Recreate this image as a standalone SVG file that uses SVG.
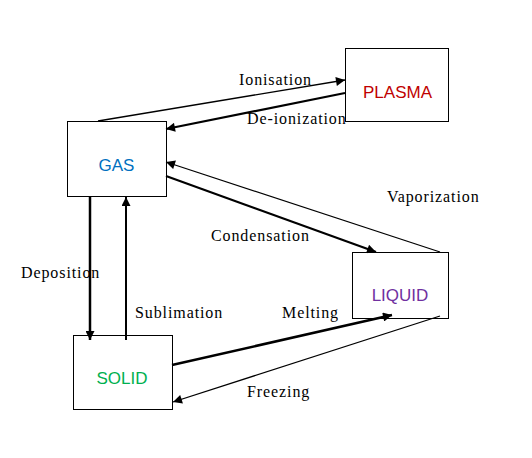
<svg xmlns="http://www.w3.org/2000/svg" width="532" height="458" viewBox="0 0 532 458">
<style>
.box{fill:#fff;stroke:#000;stroke-width:1}
.nl{font-family:"Liberation Sans",Arial,sans-serif;font-size:17px;text-anchor:middle}
.el{font-family:"Liberation Serif",serif;font-size:16px;letter-spacing:0.9px;fill:#000}
.c{stroke:#000;fill:none}
</style>
<defs>
<marker id="ah" viewBox="0 0 10 10" refX="10" refY="5" markerWidth="11" markerHeight="9" markerUnits="userSpaceOnUse" orient="auto"><path d="M0,0 L10,5 L0,10 z" fill="#000"/></marker>
</defs>
<rect width="532" height="458" fill="#fff"/>
<g id="plasma"><rect class="box" x="345.5" y="48.5" width="103" height="73"/><text class="nl" x="397.5" y="98" fill="#c00000">PLASMA</text></g>
<g id="gas"><rect class="box" x="67.5" y="121.5" width="99" height="75"/><text class="nl" x="116.5" y="171" fill="#0070c0">GAS</text></g>
<g id="liquid"><rect class="box" x="352.5" y="252.5" width="96" height="66"/><text class="nl" x="400" y="301" fill="#7030a0">LIQUID</text></g>
<g id="solid"><rect class="box" x="73.5" y="335.5" width="99" height="74"/><text class="nl" x="122" y="384" fill="#00b050">SOLID</text></g>
<g id="connectors">
<line class="c" stroke-width="1.3" x1="98" y1="121" x2="345" y2="80" marker-end="url(#ah)"/>
<line class="c" stroke-width="2.2" x1="345" y1="93" x2="166" y2="129" marker-end="url(#ah)"/>
<line class="c" stroke-width="1.3" x1="440" y1="252" x2="166" y2="162" marker-end="url(#ah)"/>
<line class="c" stroke-width="2.2" x1="166" y1="176" x2="376" y2="252" marker-end="url(#ah)"/>
<line class="c" stroke-width="2.5" x1="90" y1="197" x2="90" y2="340" marker-end="url(#ah)"/>
<line class="c" stroke-width="2" x1="126" y1="340" x2="126" y2="197" marker-end="url(#ah)"/>
<line class="c" stroke-width="2.5" x1="172" y1="365" x2="392" y2="315" marker-end="url(#ah)"/>
<line class="c" stroke-width="1.3" x1="440" y1="316" x2="173" y2="402" marker-end="url(#ah)"/>
</g>
<g id="labels">
<text class="el" x="239" y="85">Ionisation</text>
<text class="el" x="247" y="124">De-ionization</text>
<text class="el" x="387" y="202">Vaporization</text>
<text class="el" x="211" y="241">Condensation</text>
<text class="el" x="21" y="278">Deposition</text>
<text class="el" x="135" y="318">Sublimation</text>
<text class="el" x="282" y="318">Melting</text>
<text class="el" x="247" y="397">Freezing</text>
</g>
</svg>
